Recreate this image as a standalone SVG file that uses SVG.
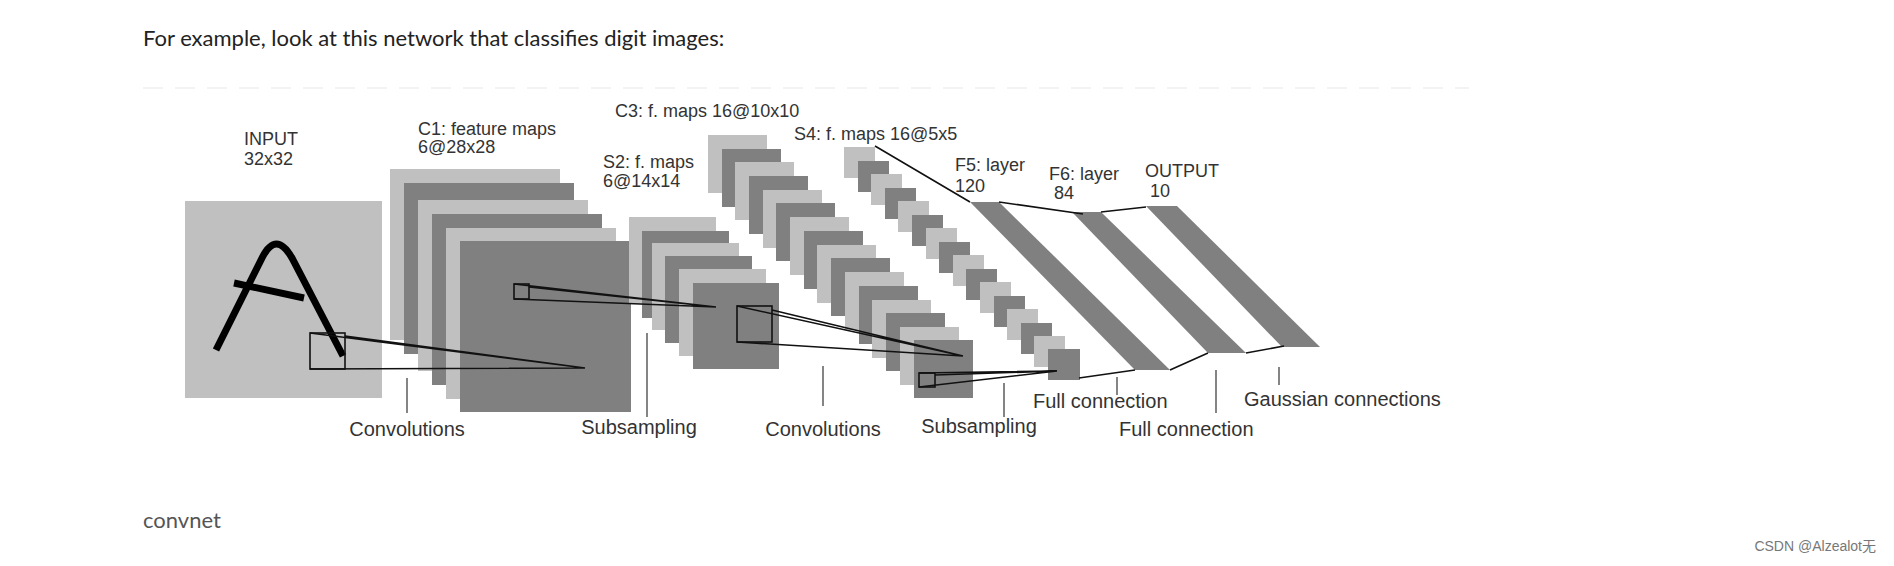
<svg xmlns="http://www.w3.org/2000/svg" width="1894" height="566" viewBox="0 0 1894 566">
<style>
.l{fill:#c0c0c0}.d{fill:#808080}
.t{font-family:"Liberation Sans",Arial,sans-serif;font-size:18px;fill:#333}
.b{font-family:"Liberation Sans",Arial,sans-serif;font-size:20px;fill:#333}
.k{stroke:#111;stroke-width:1.6;fill:none}
.tick{stroke:#333;stroke-width:1.2}
</style>
<rect width="1894" height="566" fill="#fff"/>
<text x="143" y="46" font-family="Lato,'Open Sans',sans-serif" font-size="22" fill="#222">For example, look at this network that classifies digit images:</text>
<line x1="143" y1="88" x2="1469" y2="88" stroke="#f3f3f3" stroke-width="2" stroke-dasharray="20 12"/>
<g id="input">
<rect class="l" x="185" y="201" width="197" height="197"/>
<path d="M216,350 L262,258 Q276,230 292,258 L343,356" stroke="#000" stroke-width="7" fill="none"/>
<line x1="234" y1="283" x2="304" y2="298" stroke="#000" stroke-width="7"/>
<text class="t" x="244" y="145">INPUT</text><text class="t" x="244" y="165">32x32</text>
</g>
<g id="c1">
<rect class="l" x="390" y="169" width="170" height="171"/>
<rect class="d" x="404" y="183" width="170" height="171"/>
<rect class="l" x="418" y="200" width="170" height="171"/>
<rect class="d" x="432" y="214" width="170" height="171"/>
<rect class="l" x="446" y="228" width="170" height="171"/>
<rect class="d" x="460" y="241" width="171" height="171"/>
<text class="t" x="418" y="135">C1: feature maps</text><text class="t" x="418" y="153">6@28x28</text>
</g>
<g id="s2">
<rect class="l" x="629" y="217" width="87" height="87"/>
<rect class="d" x="642" y="231" width="87" height="87"/>
<rect class="l" x="652" y="243" width="87" height="87"/>
<rect class="d" x="665" y="256" width="87" height="87"/>
<rect class="l" x="679" y="269" width="87" height="87"/>
<rect class="d" x="693" y="283" width="86" height="86"/>
<text class="t" x="603" y="168">S2: f. maps</text><text class="t" x="603" y="187">6@14x14</text>
</g>
<g id="c3">
<rect class="l" x="708" y="135" width="59" height="58"/>
<rect class="d" x="722" y="149" width="59" height="58"/>
<rect class="l" x="735" y="162" width="59" height="58"/>
<rect class="d" x="749" y="176" width="59" height="58"/>
<rect class="l" x="763" y="190" width="59" height="58"/>
<rect class="d" x="776" y="203" width="59" height="58"/>
<rect class="l" x="790" y="217" width="59" height="58"/>
<rect class="d" x="804" y="231" width="59" height="58"/>
<rect class="l" x="817" y="245" width="59" height="58"/>
<rect class="d" x="831" y="258" width="59" height="58"/>
<rect class="l" x="845" y="272" width="59" height="58"/>
<rect class="d" x="859" y="286" width="59" height="58"/>
<rect class="l" x="872" y="300" width="59" height="58"/>
<rect class="d" x="886" y="313" width="59" height="58"/>
<rect class="l" x="900" y="327" width="59" height="58"/>
<rect class="d" x="914" y="340" width="59" height="58"/>
<text class="t" x="615" y="117">C3: f. maps 16@10x10</text>
</g>
<g id="s4">
<rect class="l" x="844" y="147" width="31" height="31"/>
<rect class="d" x="858" y="161" width="31" height="31"/>
<rect class="l" x="871" y="174" width="31" height="31"/>
<rect class="d" x="885" y="188" width="31" height="31"/>
<rect class="l" x="898" y="201" width="31" height="31"/>
<rect class="d" x="912" y="215" width="31" height="31"/>
<rect class="l" x="926" y="228" width="31" height="31"/>
<rect class="d" x="939" y="242" width="31" height="31"/>
<rect class="l" x="953" y="255" width="31" height="31"/>
<rect class="d" x="966" y="269" width="31" height="31"/>
<rect class="l" x="980" y="282" width="31" height="31"/>
<rect class="d" x="994" y="296" width="31" height="31"/>
<rect class="l" x="1007" y="309" width="31" height="31"/>
<rect class="d" x="1021" y="323" width="31" height="31"/>
<rect class="l" x="1034" y="336" width="31" height="31"/>
<rect class="d" x="1048" y="349" width="32" height="31"/>
<text class="t" x="794" y="140">S4: f. maps 16@5x5</text>
</g>
<g id="f5">
<polygon class="d" points="970,202 999,202 1170,370 1135,370"/>
<text class="t" x="955" y="171" font-size="16">F5:  layer</text><text class="t" x="955" y="192">120</text>
</g>
<g id="f6">
<polygon class="d" points="1072,212 1101,212 1246,353 1208,353"/>
<text class="t" x="1049" y="180">F6: layer</text><text class="t" x="1054" y="199">84</text>
</g>
<g id="output">
<polygon class="d" points="1146,206 1177,206 1320,347 1282,347"/>
<text class="t" x="1145" y="177">OUTPUT</text><text class="t" x="1150" y="197">10</text>
</g>
<g id="connectors">
<rect class="k" x="310" y="333" width="35" height="36"/>
<path class="k" d="M310,333 L585,368 M345,336 L585,368 M310,369 L585,368"/>
<rect class="k" x="514" y="284" width="15" height="15"/>
<path class="k" d="M514,284 L716,307 M529,287 L716,307 M514,299 L716,307"/>
<rect class="k" x="737" y="306" width="35" height="36"/>
<path class="k" d="M737,306 L963,356 M772,310 L963,356 M737,342 L963,356"/>
<rect class="k" x="919" y="373" width="16" height="14"/>
<path class="k" d="M919,373 L1057,371 M935,375 L1057,371 M919,387 L1057,371"/>
<path class="k" d="M875,146 L970,202 M999,202 L1083,214 M1101,212 L1146,207 M1079,378 L1135,370 M1170,370 L1208,353 M1246,353 L1284,346"/>
<line class="tick" x1="407" y1="378" x2="407" y2="413"/>
<line class="tick" x1="647" y1="333" x2="647" y2="417"/>
<line class="tick" x1="823" y1="366" x2="823" y2="406"/>
<line class="tick" x1="1004" y1="383" x2="1004" y2="417"/>
<line class="tick" x1="1117" y1="377" x2="1117" y2="395"/>
<line class="tick" x1="1216" y1="370" x2="1216" y2="413"/>
<line class="tick" x1="1279" y1="367" x2="1279" y2="385"/>
</g>
<g id="labels">
<text class="b" x="407" y="436" text-anchor="middle">Convolutions</text>
<text class="b" x="639" y="434" text-anchor="middle">Subsampling</text>
<text class="b" x="823" y="436" text-anchor="middle">Convolutions</text>
<text class="b" x="979" y="433" text-anchor="middle">Subsampling</text>
<text class="b" x="1033" y="408">Full connection</text>
<text class="b" x="1119" y="436">Full connection</text>
<text class="b" x="1244" y="406">Gaussian connections</text>
</g>
<text x="143" y="528" font-family="Lato,'Open Sans',sans-serif" font-size="22" fill="#555">convnet</text>
<text x="1876" y="551" text-anchor="end" font-family="'Liberation Sans','Noto Sans CJK SC',sans-serif" font-size="14" fill="#777">CSDN @Alzealot无</text>
</svg>
